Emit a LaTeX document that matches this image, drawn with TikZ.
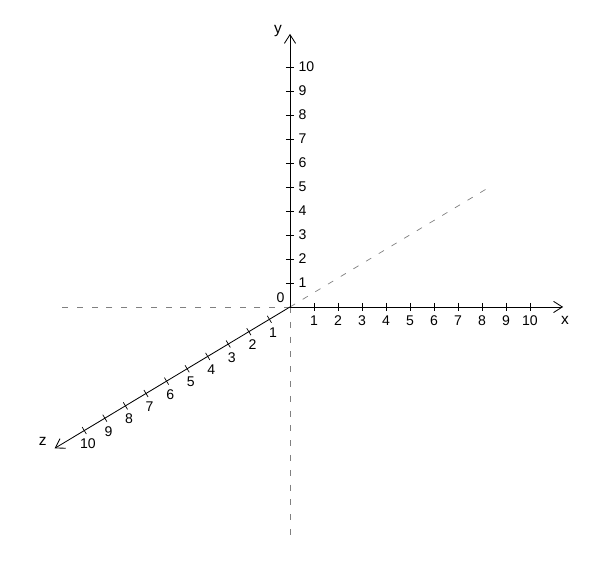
\documentclass[tikz,border=0pt]{standalone}
\usepackage{fontspec}
\setmainfont{Liberation Sans}
\usetikzlibrary{arrows.meta}
\tikzset{
  axisline/.style={line width=0.6pt, -{Straight Barb[length=0.22cm, width=0.28cm]}},
  guide/.style={gray, line width=0.5pt, dash pattern=on 0.15cm off 0.22cm},
  tickmark/.style={line width=0.5pt},
  num/.style={font=\fontsize{10}{11}\selectfont, inner sep=3pt},
  axlab/.style={font=\fontsize{11}{12}\selectfont, inner sep=1pt}
}

\begin{document}
\begin{tikzpicture}[x=0.6cm, y=0.6cm] % 1目盛り = 0.6cm
  \useasboundingbox (-12.083,-11.167) rectangle (12.917,12.79); % 余白込みの範囲
  \coordinate (O) at (0,0); % 原点

  % 補助線（破線）
  \draw[guide] (O) -- (-9.5,0);
  \draw[guide] (O) -- (0,-9.5);
  \draw[guide] (O) -- (31:9.85);

  % 軸
  \draw[axisline] (O) -- (11.38,0) coordinate (xtip); % x軸
  \draw[axisline] (O) -- (0,11.38) coordinate (ytip); % y軸
  \draw[axisline] (O) -- (211:11.44) coordinate (ztip); % z軸、左下向き

  \node[axlab] (xlab) at (11.46,-0.58) {x};
  \node[axlab] (ylab) at (-0.5,11.5) {y};
  \node[axlab] (zlab) at (-10.3,-5.6) {z};
  \node[num] (olab) at (-0.39,0.38) {0};

  % 目盛り
  \foreach \i in {1,...,10} {
    \draw[tickmark] (\i,0.17) -- (\i,-0.17) node[num, below] (xn\i) {\i};
    \draw[tickmark] (-0.17,\i) -- (0.17,\i) node[num, right] (yn\i) {\i};
    \draw[tickmark, shift={(211:\i)}] (121:0.17) -- (301:0.17);
    \path (211:\i) ++(0.15,-0.55) node[num] (zn\i) {\i};
  }
\end{tikzpicture}
\end{document}
